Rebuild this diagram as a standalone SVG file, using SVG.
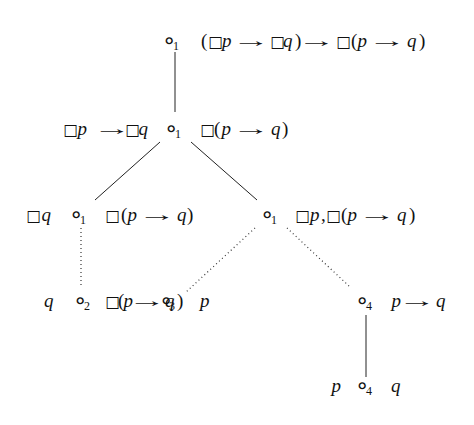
<svg xmlns="http://www.w3.org/2000/svg" width="474" height="425" viewBox="0 0 474 425">
<style>
.t{font-family:"Liberation Serif","DejaVu Serif",serif;font-size:19px;fill:#111}
.i{font-style:italic}
.b{font-family:"DejaVu Sans",sans-serif;font-size:15.5px;font-style:normal}
.a{font-family:"Liberation Serif",serif;font-size:19px;font-style:normal}
.c{font-family:"DejaVu Sans",sans-serif;font-size:23px;fill:#111}
.sub{font-family:"Liberation Serif","DejaVu Serif",serif;font-size:12px;fill:#111}
.e{stroke:#222;stroke-width:1;fill:none}
.d{stroke:#333;stroke-width:1.2;fill:none;stroke-dasharray:1 3}
</style>
<rect width="474" height="425" fill="#fff"/>
<g id="connectors">
<line class="e" x1="175" y1="52" x2="175" y2="112"/>
<line class="e" x1="160" y1="142" x2="95" y2="200"/>
<line class="e" x1="191" y1="142" x2="257" y2="200"/>
<line class="d" x1="81" y1="228" x2="81" y2="287"/>
<line class="d" x1="255" y1="228" x2="185" y2="293"/>
<line class="d" x1="287" y1="228" x2="350" y2="287"/>
<line class="e" x1="366" y1="315" x2="366" y2="377"/>
</g>
<g id="n1">
<text class="c" x="162" y="48">∘</text><text class="sub" x="173" y="50">1</text>
<text class="t" y="47"><tspan x="201">(</tspan><tspan class="b" x="208.5">□</tspan><tspan class="i" x="222">p</tspan><tspan class="a" x="232" textLength="38" lengthAdjust="spacingAndGlyphs">→</tspan><tspan class="b" x="270.5">□</tspan><tspan class="i" x="283">q</tspan><tspan x="295">)</tspan><tspan class="a" x="297.5" textLength="38" lengthAdjust="spacingAndGlyphs">→</tspan><tspan class="b" x="336.5">□</tspan><tspan x="351">(</tspan><tspan class="i" x="357.5">p</tspan><tspan class="a" x="368" textLength="38" lengthAdjust="spacingAndGlyphs">→</tspan><tspan class="i" x="407">q</tspan><tspan x="419">)</tspan></text>
</g>
<g id="n2">
<text class="t" y="135"><tspan class="b" x="63.5">□</tspan><tspan class="i" x="77.5">p</tspan><tspan class="a" x="93" textLength="38" lengthAdjust="spacingAndGlyphs">→</tspan><tspan class="b" x="125.5">□</tspan><tspan class="i" x="138.5">q</tspan></text>
<text class="c" x="164" y="136">∘</text><text class="sub" x="175" y="138">1</text>
<text class="t" y="135"><tspan class="b" x="200.5">□</tspan><tspan x="214">(</tspan><tspan class="i" x="221.5">p</tspan><tspan class="a" x="232" textLength="38" lengthAdjust="spacingAndGlyphs">→</tspan><tspan class="i" x="271">q</tspan><tspan x="282">)</tspan></text>
</g>
<g id="n3">
<text class="t" y="221"><tspan class="b" x="26.5">□</tspan><tspan class="i" x="41.5">q</tspan></text>
<text class="c" x="69" y="222">∘</text><text class="sub" x="80" y="224">1</text>
<text class="t" y="221"><tspan class="b" x="105.5">□</tspan><tspan x="121">(</tspan><tspan class="i" x="127.5">p</tspan><tspan class="a" x="138" textLength="38" lengthAdjust="spacingAndGlyphs">→</tspan><tspan class="i" x="177">q</tspan><tspan x="187">)</tspan></text>
</g>
<g id="n4">
<text class="c" x="260" y="222">∘</text><text class="sub" x="271" y="224">1</text>
<text class="t" y="221"><tspan class="b" x="295.5">□</tspan><tspan class="i" x="310">p</tspan><tspan x="321">,</tspan><tspan class="b" x="326.5">□</tspan><tspan x="341">(</tspan><tspan class="i" x="347.5">p</tspan><tspan class="a" x="358" textLength="38" lengthAdjust="spacingAndGlyphs">→</tspan><tspan class="i" x="397">q</tspan><tspan x="409">)</tspan></text>
</g>
<g id="n5">
<text class="t i" x="44" y="307">q</text>
<text class="c" x="73" y="308">∘</text><text class="sub" x="84" y="310">2</text>
<text class="t" y="307"><tspan class="b" x="105.5">□</tspan><tspan x="118">(</tspan><tspan class="i" x="123.5">p</tspan><tspan class="a" x="128" textLength="38" lengthAdjust="spacingAndGlyphs">→</tspan><tspan class="i" x="165">q</tspan><tspan x="177">)</tspan></text>
</g>
<g id="n6">
<text class="c" x="159" y="308">∘</text><text class="sub" x="169" y="310">3</text>
<text class="t i" x="200" y="307">p</text>
</g>
<g id="n7">
<text class="c" x="355" y="308">∘</text><text class="sub" x="366" y="310">4</text>
<text class="t" y="307"><tspan class="i" x="391.5">p</tspan><tspan class="a" x="398" textLength="38" lengthAdjust="spacingAndGlyphs">→</tspan><tspan class="i" x="436">q</tspan></text>
</g>
<g id="n8">
<text class="t i" x="331.5" y="392">p</text>
<text class="c" x="355" y="393">∘</text><text class="sub" x="366" y="395">4</text>
<text class="t i" x="391" y="392">q</text>
</g>
</svg>
